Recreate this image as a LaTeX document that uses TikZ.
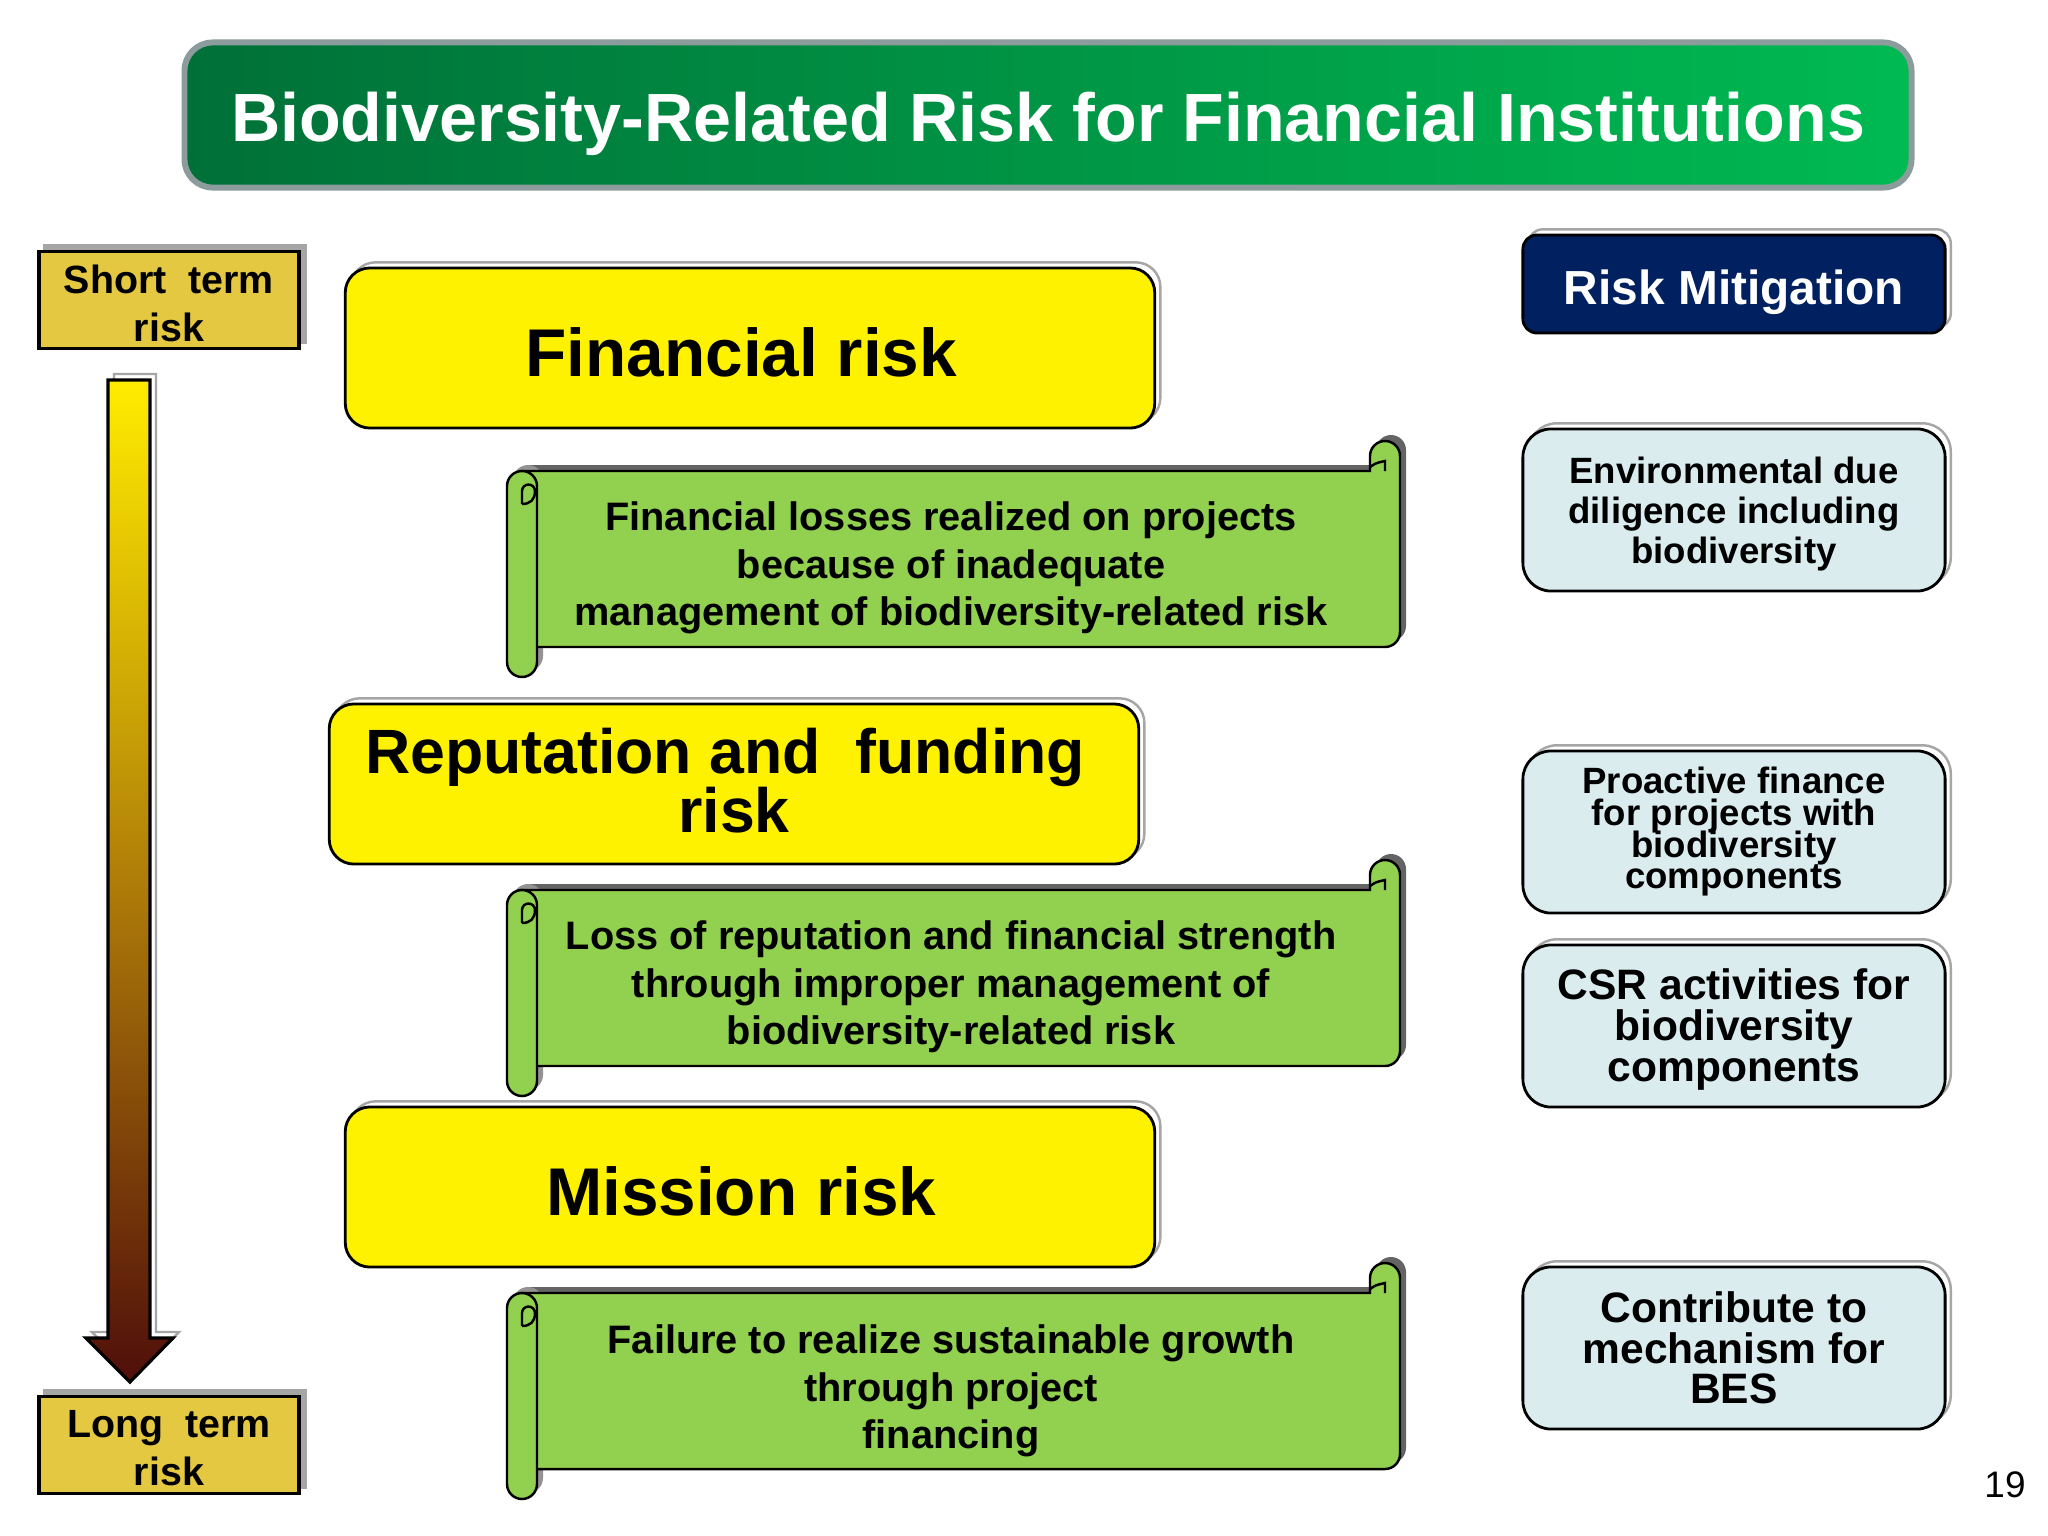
\documentclass[tikz,border=0pt]{standalone}
\usepackage{fontspec}
\setmainfont{Liberation Sans}
\usetikzlibrary{shadows}

\definecolor{titledark}{RGB}{0,112,56}
\definecolor{titlelight}{RGB}{0,186,82}
\definecolor{titleedge}{RGB}{140,156,156}
\definecolor{scrollgreen}{RGB}{146,208,80}
\definecolor{scrollshade}{RGB}{100,100,100}
\definecolor{termgold}{RGB}{228,200,66}
\definecolor{mitblue}{RGB}{218,236,238}
\definecolor{mitnavy}{RGB}{0,32,96}
\definecolor{arrowtop}{RGB}{255,236,0}
\definecolor{arrowmid}{RGB}{175,125,8}
\definecolor{arrowbot}{RGB}{80,14,10}

\tikzset{
  lightshadow/.style={copy shadow={shadow xshift=1.6pt, shadow yshift=1.6pt, fill=white, draw=gray!70, line width=0.7pt}},
  riskbox/.style={draw=black, line width=0.8pt, fill=yellow, rounded corners=7pt, minimum width=8.09cm, minimum height=1.6cm, align=center, lightshadow},
  termbox/.style={draw=black, line width=1pt, fill=termgold, minimum width=2.6cm, minimum height=0.97cm, inner ysep=1pt, align=center, text depth=0pt, font=\fontsize{11.2}{13.6}\selectfont\bfseries, copy shadow={shadow xshift=1.7pt, shadow yshift=1.7pt, fill=gray!70, draw=gray!70}},
  mitbox/.style={draw=black, line width=0.8pt, fill=mitblue, rounded corners=8pt, minimum width=4.22cm, minimum height=1.62cm, align=center, lightshadow},
  scrolltext/.style={align=center, font=\fontsize{11.3}{13.5}\selectfont\bfseries},
}

\begin{document}
\begin{tikzpicture}[x=0.01cm, y=-0.01cm]
\useasboundingbox (0,0) rectangle (2048,1536);
\fill[white] (0,0) rectangle (2048,1536);

% title bar
\node[draw=titleedge, line width=1.7pt, rounded corners=8pt, left color=titledark, right color=titlelight, minimum width=17.26cm, minimum height=1.45cm, text height=15.3pt, text depth=0pt, text=white, font=\fontsize{19.4}{22}\selectfont\bfseries] (title) at (1048,115) {Biodiversity-Related Risk for Financial Institutions};

% time arrow
\draw[gray!70, fill=white, line width=0.7pt, shift={(6,-6)}] (108,380) -- (150,380) -- (150,1338) -- (173,1338) -- (130,1382) -- (86,1338) -- (108,1338) -- cycle;
\draw[line width=0.9pt, top color=arrowtop, bottom color=arrowbot, middle color=arrowmid] (108,380) -- (150,380) -- (150,1338) -- (173,1338) -- (130,1382) -- (86,1338) -- (108,1338) -- cycle;
\node[termbox, text height=23.5pt] (shortterm) at (169,300) {Short~ term\\risk};
\node[termbox, text height=22.9pt] (longterm) at (169,1445) {Long~ term\\risk};

% risk boxes
\node[riskbox, text height=16.3pt, text depth=0pt, font=\fontsize{19.2}{22}\selectfont\bfseries] (finrisk) at (750,348) {Financial risk\hspace*{5pt}};
\node[riskbox, text depth=1.9pt, font=\fontsize{17.8}{16.8}\selectfont\bfseries] (reprisk) at (734,784) {Reputation and~ funding\hspace*{5pt}\\risk};
\node[riskbox, text height=16pt, text depth=0pt, font=\fontsize{19.2}{22}\selectfont\bfseries] (misrisk) at (750,1187) {Mission risk\hspace*{5pt}};

% scrolls
\foreach \t in {0,419,822}{
  \begin{scope}[shift={(0,\t)}]
  \fill[scrollshade, shift={(6,-6)}] (522,471) -- (1370,471) -- (1370,456) arc[start angle=180, end angle=360, radius=15] -- (1400,632) arc[start angle=0, end angle=90, radius=15] -- (522,647) -- cycle;
  \fill[scrollshade!70, shift={(6,-6)}] (507,486) arc[start angle=180, end angle=360, radius=15] -- (537,662) arc[start angle=0, end angle=180, radius=15] -- cycle;
  \filldraw[fill=scrollgreen, draw=black, line width=0.7pt] (522,471) -- (1370,471) -- (1370,456) arc[start angle=180, end angle=360, radius=15] -- (1400,632) arc[start angle=0, end angle=90, radius=15] -- (522,647) -- cycle;
  \draw[black, line width=0.7pt] (1370,467) .. controls (1376,463) .. (1385,461) -- (1385,471);
  \filldraw[fill=scrollgreen, draw=black, line width=0.7pt] (507,486) arc[start angle=180, end angle=360, radius=15] -- (537,662) arc[start angle=0, end angle=180, radius=15] -- cycle;
  \draw[black, line width=0.7pt] (522,504) -- (522,491) arc[start angle=180, end angle=360, radius=6.5] .. controls (535,500) and (530,504) .. (522,504);
  \end{scope}
}
\node[scrolltext] (finloss) at (951,568) {Financial losses realized on projects\\because of inadequate\\management of biodiversity-related risk};
\node[scrolltext] (reploss) at (951,987) {Loss of reputation and financial strength\\through improper management of\\biodiversity-related risk};
\node[scrolltext] (misloss) at (951,1391) {Failure to realize sustainable growth\\through project\\financing};

% mitigation column
\node[mitbox, fill=mitnavy, rounded corners=4pt, minimum height=0.98cm, text height=11.5pt, text depth=0pt, text=white, font=\fontsize{13.6}{16}\selectfont\bfseries] (mithead) at (1734,284) {Risk Mitigation};
\node[mitbox, text depth=0pt, font=\fontsize{10.4}{11.4}\selectfont\bfseries] (mitdue) at (1734,510) {Environmental due\\diligence including\\biodiversity};
\node[mitbox, text depth=2.2pt, font={\fontsize{10.4}{9}\selectfont\bfseries\lineskiplimit-20pt\relax}] (mitfin) at (1734,832) {Proactive finance\\for projects with\\biodiversity\\components};
\node[mitbox, text depth=0.6pt, font=\fontsize{12.1}{11.7}\selectfont\bfseries] (mitcsr) at (1734,1026) {CSR activities for\\biodiversity\\components};
\node[mitbox, font=\fontsize{12.1}{11.5}\selectfont\bfseries] (mitbes) at (1734,1348) {Contribute to\\mechanism for\\BES};

\node[font=\fontsize{10.5}{12}\selectfont] (pagenum) at (2005,1485) {19};
\end{tikzpicture}
\end{document}
